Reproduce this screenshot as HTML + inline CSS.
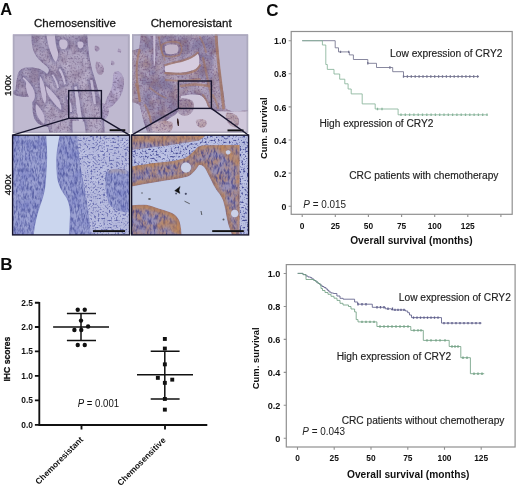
<!DOCTYPE html>
<html><head><meta charset="utf-8"><title>CRY2 figure</title>
<style>
html,body{margin:0;padding:0;background:#fff;width:520px;height:486px;overflow:hidden}
svg{display:block}
text{font-family:"Liberation Sans",Arial,sans-serif}
.b{font-weight:bold}
.lbl{font-size:17px;font-weight:bold;fill:#0a0a0a}
.tk{font-size:8.4px;font-weight:bold;fill:#111}
.ann{font-size:10px;fill:#222;stroke:#222;stroke-width:0.15px}
</style></head>
<body>
<svg width="520" height="486" viewBox="0 0 520 486">
<!-- ===== PANEL A ===== -->
<text class="lbl" x="0.2" y="15.4" style="font-size:16.4px">A</text>
<text x="75" y="27.3" font-size="11.5" fill="#161616" stroke="#161616" stroke-width="0.28" text-anchor="middle" textLength="82" lengthAdjust="spacingAndGlyphs">Chemosensitive</text>
<text x="191.2" y="27.3" font-size="11.5" fill="#161616" stroke="#161616" stroke-width="0.28" text-anchor="middle" textLength="81" lengthAdjust="spacingAndGlyphs">Chemoresistant</text>
<text transform="translate(10.8,85.5) rotate(-90)" font-size="9.6" fill="#111" stroke="#111" stroke-width="0.3" text-anchor="middle">100x</text>
<text transform="translate(10.8,184.9) rotate(-90)" font-size="9.6" fill="#111" stroke="#111" stroke-width="0.3" text-anchor="middle">400x</text>

<g id="micro">
<defs>
<clipPath id="cTL"><rect x="12.9" y="34.6" width="116.6" height="98.5"/></clipPath>
<clipPath id="cTR"><rect x="132" y="34.4" width="116.1" height="98.7"/></clipPath>
<clipPath id="cBL"><rect x="12.6" y="135.2" width="117" height="99.7"/></clipPath>
<clipPath id="cBR"><rect x="131.6" y="135.2" width="117" height="99.7"/></clipPath>
<filter id="sTL" x="0" y="0" width="1" height="1" color-interpolation-filters="sRGB"><feTurbulence type="fractalNoise" baseFrequency="0.55" numOctaves="1" seed="3"/><feColorMatrix type="matrix" values="0 0 0 0 0.400  0 0 0 0 0.330  0 0 0 0 0.480  4.00 0 0 0 -1.95"/><feGaussianBlur stdDeviation="0.4"/></filter>
<filter id="dTL" x="0" y="0" width="1" height="1" color-interpolation-filters="sRGB"><feTurbulence type="fractalNoise" baseFrequency="0.1" numOctaves="3" seed="9"/><feColorMatrix type="matrix" values="0 0 0 0 0.480  0 0 0 0 0.380  0 0 0 0 0.500  2.20 0 0 0 -0.85"/></filter>
<filter id="lTL" x="0" y="0" width="1" height="1" color-interpolation-filters="sRGB"><feTurbulence type="fractalNoise" baseFrequency="0.1" numOctaves="3" seed="19"/><feColorMatrix type="matrix" values="0 0 0 0 0.840  0 0 0 0 0.800  0 0 0 0 0.880  2.20 0 0 0 -0.85"/></filter>
<filter id="sTR" x="0" y="0" width="1" height="1" color-interpolation-filters="sRGB"><feTurbulence type="fractalNoise" baseFrequency="0.55" numOctaves="1" seed="4"/><feColorMatrix type="matrix" values="0 0 0 0 0.400  0 0 0 0 0.280  0 0 0 0 0.450  4.00 0 0 0 -1.95"/><feGaussianBlur stdDeviation="0.4"/></filter>
<filter id="dTR" x="0" y="0" width="1" height="1" color-interpolation-filters="sRGB"><feTurbulence type="fractalNoise" baseFrequency="0.1" numOctaves="3" seed="13"/><feColorMatrix type="matrix" values="0 0 0 0 0.550  0 0 0 0 0.350  0 0 0 0 0.300  2.20 0 0 0 -0.85"/></filter>
<filter id="lTR" x="0" y="0" width="1" height="1" color-interpolation-filters="sRGB"><feTurbulence type="fractalNoise" baseFrequency="0.1" numOctaves="3" seed="23"/><feColorMatrix type="matrix" values="0 0 0 0 0.860  0 0 0 0 0.820  0 0 0 0 0.900  2.20 0 0 0 -0.85"/></filter>
<filter id="sBL" x="0" y="0" width="1" height="1" color-interpolation-filters="sRGB"><feTurbulence type="fractalNoise" baseFrequency="0.55" numOctaves="1" seed="11"/><feColorMatrix type="matrix" values="0 0 0 0 0.300  0 0 0 0 0.320  0 0 0 0 0.620  4.30 0 0 0 -2.20"/><feGaussianBlur stdDeviation="0.38"/></filter>
<filter id="dBL" x="0" y="0" width="1" height="1" color-interpolation-filters="sRGB"><feTurbulence type="fractalNoise" baseFrequency="0.1" numOctaves="3" seed="15"/><feColorMatrix type="matrix" values="0 0 0 0 0.350  0 0 0 0 0.380  0 0 0 0 0.720  2.20 0 0 0 -0.85"/></filter>
<filter id="lBL" x="0" y="0" width="1" height="1" color-interpolation-filters="sRGB"><feTurbulence type="fractalNoise" baseFrequency="0.1" numOctaves="3" seed="25"/><feColorMatrix type="matrix" values="0 0 0 0 0.840  0 0 0 0 0.860  0 0 0 0 0.950  2.20 0 0 0 -0.85"/></filter>
<filter id="sBR" x="0" y="0" width="1" height="1" color-interpolation-filters="sRGB"><feTurbulence type="fractalNoise" baseFrequency="0.55" numOctaves="1" seed="5"/><feColorMatrix type="matrix" values="0 0 0 0 0.220  0 0 0 0 0.240  0 0 0 0 0.550  4.30 0 0 0 -2.20"/><feGaussianBlur stdDeviation="0.38"/></filter>
<filter id="dBR" x="0" y="0" width="1" height="1" color-interpolation-filters="sRGB"><feTurbulence type="fractalNoise" baseFrequency="0.09" numOctaves="3" seed="17"/><feColorMatrix type="matrix" values="0 0 0 0 0.750  0 0 0 0 0.500  0 0 0 0 0.280  2.40 0 0 0 -0.90"/></filter>
<filter id="lBR" x="0" y="0" width="1" height="1" color-interpolation-filters="sRGB"><feTurbulence type="fractalNoise" baseFrequency="0.1" numOctaves="3" seed="27"/><feColorMatrix type="matrix" values="0 0 0 0 0.820  0 0 0 0 0.840  0 0 0 0 0.940  2.20 0 0 0 -0.85"/></filter>
<filter id="b1" x="-30%" y="-30%" width="160%" height="160%"><feGaussianBlur stdDeviation="0.7"/></filter>
<filter id="b2" x="-30%" y="-30%" width="160%" height="160%"><feGaussianBlur stdDeviation="1.6"/></filter>
<filter id="b3" x="-30%" y="-30%" width="160%" height="160%"><feGaussianBlur stdDeviation="1.0"/></filter>
<filter id="eBL" x="0" y="0" width="1" height="1" color-interpolation-filters="sRGB"><feTurbulence type="fractalNoise" baseFrequency="0.55 0.22" numOctaves="2" seed="31"/><feColorMatrix type="matrix" values="0 0 0 0 0.220  0 0 0 0 0.250  0 0 0 0 0.550  3.00 0 0 0 -1.25"/><feGaussianBlur stdDeviation="0.3"/></filter>
<filter id="eBR" x="0" y="0" width="1" height="1" color-interpolation-filters="sRGB"><feTurbulence type="fractalNoise" baseFrequency="0.5 0.2" numOctaves="2" seed="33"/><feColorMatrix type="matrix" values="0 0 0 0 0.220  0 0 0 0 0.220  0 0 0 0 0.520  3.00 0 0 0 -1.25"/><feGaussianBlur stdDeviation="0.3"/></filter>
<filter id="oBR" x="0" y="0" width="1" height="1" color-interpolation-filters="sRGB"><feTurbulence type="fractalNoise" baseFrequency="0.12" numOctaves="3" seed="37"/><feColorMatrix type="matrix" values="0 0 0 0 0.760  0 0 0 0 0.520  0 0 0 0 0.320  2.40 0 0 0 -0.75"/></filter>
</defs>
<g clip-path="url(#cTL)">
<rect x="10" y="32" width="122.5" height="104" fill="#aea4c0"/>
<g filter="url(#b2)" opacity="0.35" fill="#7c7298"><path d="M31.5 35 L45 35 C47 43 51 50 55 56 C52 60 48 62 45 61 C40 56 35 48 31.5 35 Z"/><path d="M56 35 L74 35 C75 42 72 50 66 54 C61 52 58 45 56 35 Z"/><path d="M18 78 C20 71 27 68 34 69 C37 71 36 76 32 80 C28 84 26 90 22 93 C18 92 17 85 18 78 Z"/><path d="M75 35 L87 35 C88 42 88 50 86 55 C81 56 77 50 75 44 Z"/></g>
<g filter="url(#b3)" fill="none" stroke="#6c6290" stroke-width="4.6" opacity="0.6"><path d="M10 32 L31.5 32 C31.5 42 32 47 34 52 C36 57 40 61 44 64 C46 65.5 48 67 49 70 C48.5 72 47.5 73.5 47 74 C45 72 43 70.5 40 69 C36 67.5 30 67 25 67.8 C21 68.8 18.5 71 17.5 75 C16.5 80 16 85 15.5 90 L10 92 Z"/><path d="M10 92 C14 95 18 96.5 22 96.8 C26 97 29 96.5 31.5 97 C32.5 100 32.5 106 32.8 112 C33.2 117 35 121 38 123.5 C41 125.5 45 126.5 48 127 C49 130 49.5 133 50 136 L10 136 Z"/><path d="M72.3 121 C75.5 120 80 120.5 84 121.5 C85 126 85.5 130 86 136 L72.8 136 C72.6 131 72.3 126 72.3 121 Z"/><path d="M87 32 L133 32 L133 136 L104.5 136 C104.5 126 104 121 104 116 C103.5 112 102.5 108 101.5 104 C99.5 96 97 86 94 76 C92 70 90 62 89 54 C88 46 87.5 40 87 32 Z"/><path d="M46 32 L55 32 C55 41 56 47 58 52 C58.5 56 57.5 60 55.5 62 C52.5 58 50.2 52 48.6 46 C47.3 41 46.5 36 46 32 Z"/><path d="M76.5 86 C78.5 93 79.5 101 80.5 108 C81 113 81.8 117 83 121 L79 122 C77.8 117.5 77 113 76.4 108 C75.6 101 75 94 74.2 87 Z"/><path d="M77.5 42 C79.5 40.5 82.5 41 83.5 43.5 C84 46 82.5 48.5 80 48.5 C78 48 77 45 77.5 42 Z"/><path d="M26.5 80.5 C30 83 33.5 87.5 34.8 93 C35.4 97 34.3 100.5 32.5 102 C29.5 99 27.2 94.5 26.3 90 C25.8 86.5 25.9 83 26.5 80.5 Z"/><path d="M40 76 C43 80 45 86 46 93 C46.5 98 46 102 45 104 C43 101 41.5 96 40.5 90 C39.8 85 39.6 80 40 76 Z"/><path d="M53 74 C56 78 58 83 59 88 L57.4 88.6 C56.3 84 54.3 79.5 51.8 75.6 Z"/><path d="M92.5 80 C94 88 95.5 96 96 104 L93.6 104 C92.6 96 91 88 90 80 Z"/><path d="M46 86 C50 89 55 94 59 100 C61 104 62 108 61 110 C58 108 54 103 50 98 C47 94 45.5 90 46 86 Z"/><path d="M60 68 C63 72 65 78 66 84 L64 84.8 C63 79 61 74 58.6 70 Z"/><path d="M59.5 40.5 C62 38.5 66 39 67.5 42 C68.5 46 66.5 49.5 63 49.5 C60 49 58.5 45 59.5 40.5 Z"/><path d="M23 77 C26.5 78.5 29 82 29.8 87 L27.8 88 C27 83.5 25.5 80.5 22.5 78.5 Z"/><path d="M68 97 C71 101 72 106 72 112 L70 112 C70 107 69 102 66.8 98 Z"/><path d="M36 104 C39 106 42 110 44 115 C45 119 45 122 44 124 C41 122 38.5 119 37 115 C35.5 111 35.3 107 36 104 Z"/></g>
<g filter="url(#b1)"><path fill="#bfb9d0" d="M10 32 L31.5 32 C31.5 42 32 47 34 52 C36 57 40 61 44 64 C46 65.5 48 67 49 70 C48.5 72 47.5 73.5 47 74 C45 72 43 70.5 40 69 C36 67.5 30 67 25 67.8 C21 68.8 18.5 71 17.5 75 C16.5 80 16 85 15.5 90 L10 92 Z"/><path fill="#bfb9d0" d="M10 92 C14 95 18 96.5 22 96.8 C26 97 29 96.5 31.5 97 C32.5 100 32.5 106 32.8 112 C33.2 117 35 121 38 123.5 C41 125.5 45 126.5 48 127 C49 130 49.5 133 50 136 L10 136 Z"/><path fill="#bfb9d0" d="M72.3 121 C75.5 120 80 120.5 84 121.5 C85 126 85.5 130 86 136 L72.8 136 C72.6 131 72.3 126 72.3 121 Z"/><path fill="#bfb9d0" d="M87 32 L133 32 L133 136 L104.5 136 C104.5 126 104 121 104 116 C103.5 112 102.5 108 101.5 104 C99.5 96 97 86 94 76 C92 70 90 62 89 54 C88 46 87.5 40 87 32 Z"/><path fill="#c8bed6" d="M46 32 L55 32 C55 41 56 47 58 52 C58.5 56 57.5 60 55.5 62 C52.5 58 50.2 52 48.6 46 C47.3 41 46.5 36 46 32 Z"/><path fill="#c4bcd5" d="M76.5 86 C78.5 93 79.5 101 80.5 108 C81 113 81.8 117 83 121 L79 122 C77.8 117.5 77 113 76.4 108 C75.6 101 75 94 74.2 87 Z"/><path fill="#c4bad4" d="M77.5 42 C79.5 40.5 82.5 41 83.5 43.5 C84 46 82.5 48.5 80 48.5 C78 48 77 45 77.5 42 Z"/><path fill="#c4bad4" d="M26.5 80.5 C30 83 33.5 87.5 34.8 93 C35.4 97 34.3 100.5 32.5 102 C29.5 99 27.2 94.5 26.3 90 C25.8 86.5 25.9 83 26.5 80.5 Z"/><path fill="#c4bad4" d="M40 76 C43 80 45 86 46 93 C46.5 98 46 102 45 104 C43 101 41.5 96 40.5 90 C39.8 85 39.6 80 40 76 Z"/><path fill="#c4bad4" d="M53 74 C56 78 58 83 59 88 L57.4 88.6 C56.3 84 54.3 79.5 51.8 75.6 Z"/><path fill="#c0b6d0" d="M92.5 80 C94 88 95.5 96 96 104 L93.6 104 C92.6 96 91 88 90 80 Z"/><path fill="#c4bad4" d="M46 86 C50 89 55 94 59 100 C61 104 62 108 61 110 C58 108 54 103 50 98 C47 94 45.5 90 46 86 Z"/><path fill="#c4bad4" d="M60 68 C63 72 65 78 66 84 L64 84.8 C63 79 61 74 58.6 70 Z"/><path fill="#c6bcd4" d="M59.5 40.5 C62 38.5 66 39 67.5 42 C68.5 46 66.5 49.5 63 49.5 C60 49 58.5 45 59.5 40.5 Z"/><path fill="#c4bad4" d="M23 77 C26.5 78.5 29 82 29.8 87 L27.8 88 C27 83.5 25.5 80.5 22.5 78.5 Z"/><path fill="#c4bad4" d="M68 97 C71 101 72 106 72 112 L70 112 C70 107 69 102 66.8 98 Z"/><path fill="#c2b8d2" d="M36 104 C39 106 42 110 44 115 C45 119 45 122 44 124 C41 122 38.5 119 37 115 C35.5 111 35.3 107 36 104 Z"/><path fill="#aa9ec4" d="M117 71 C121 72 124 76 124 82 C124 90 121 97 116 102 C113 106 109 109 106 108 C104 104 106 99 109 94 C112 89 113 83 113 78 C113 74 114 71 117 71 Z"/><path fill="#aa9ec4" d="M102.5 103 C106 104 109 108 109 112 C108 116 106 119 104.3 120 C103 116 102.5 110 102.5 103 Z"/><path fill="#aa9ab8" d="M96 62 C99 61 103 64 104 69 C104 74 101 76 98 74 C96 71 95 66 96 62 Z"/><path fill="#a696b8" d="M95 46 C97 45 99.5 46.5 99.5 49 C99 51 97 52 95.5 51 C94.5 49.5 94.5 47 95 46 Z"/><path fill="#b0a4c4" d="M111 61 C113 60 115 62 114.5 64 C113.5 66 111.5 65.5 111 64 Z"/><path fill="#b0a4c4" d="M118 49 C120 48 122 50 121 52 C120 53.5 118 53 117.5 51.5 Z"/></g>
<mask id="mTL" maskUnits="userSpaceOnUse" x="10" y="32" width="122.5" height="104"><g filter="url(#b1)"><rect x="10" y="32" width="122.5" height="104" fill="#fff"/><path fill="#000" d="M10 32 L31.5 32 C31.5 42 32 47 34 52 C36 57 40 61 44 64 C46 65.5 48 67 49 70 C48.5 72 47.5 73.5 47 74 C45 72 43 70.5 40 69 C36 67.5 30 67 25 67.8 C21 68.8 18.5 71 17.5 75 C16.5 80 16 85 15.5 90 L10 92 Z"/><path fill="#000" d="M10 92 C14 95 18 96.5 22 96.8 C26 97 29 96.5 31.5 97 C32.5 100 32.5 106 32.8 112 C33.2 117 35 121 38 123.5 C41 125.5 45 126.5 48 127 C49 130 49.5 133 50 136 L10 136 Z"/><path fill="#000" d="M72.3 121 C75.5 120 80 120.5 84 121.5 C85 126 85.5 130 86 136 L72.8 136 C72.6 131 72.3 126 72.3 121 Z"/><path fill="#000" d="M87 32 L133 32 L133 136 L104.5 136 C104.5 126 104 121 104 116 C103.5 112 102.5 108 101.5 104 C99.5 96 97 86 94 76 C92 70 90 62 89 54 C88 46 87.5 40 87 32 Z"/><path fill="#000" d="M46 32 L55 32 C55 41 56 47 58 52 C58.5 56 57.5 60 55.5 62 C52.5 58 50.2 52 48.6 46 C47.3 41 46.5 36 46 32 Z"/><path fill="#000" d="M76.5 86 C78.5 93 79.5 101 80.5 108 C81 113 81.8 117 83 121 L79 122 C77.8 117.5 77 113 76.4 108 C75.6 101 75 94 74.2 87 Z"/><path fill="#000" d="M77.5 42 C79.5 40.5 82.5 41 83.5 43.5 C84 46 82.5 48.5 80 48.5 C78 48 77 45 77.5 42 Z"/><path fill="#000" d="M26.5 80.5 C30 83 33.5 87.5 34.8 93 C35.4 97 34.3 100.5 32.5 102 C29.5 99 27.2 94.5 26.3 90 C25.8 86.5 25.9 83 26.5 80.5 Z"/><path fill="#000" d="M40 76 C43 80 45 86 46 93 C46.5 98 46 102 45 104 C43 101 41.5 96 40.5 90 C39.8 85 39.6 80 40 76 Z"/><path fill="#000" d="M53 74 C56 78 58 83 59 88 L57.4 88.6 C56.3 84 54.3 79.5 51.8 75.6 Z"/><path fill="#000" d="M92.5 80 C94 88 95.5 96 96 104 L93.6 104 C92.6 96 91 88 90 80 Z"/><path fill="#000" d="M46 86 C50 89 55 94 59 100 C61 104 62 108 61 110 C58 108 54 103 50 98 C47 94 45.5 90 46 86 Z"/><path fill="#000" d="M60 68 C63 72 65 78 66 84 L64 84.8 C63 79 61 74 58.6 70 Z"/><path fill="#000" d="M59.5 40.5 C62 38.5 66 39 67.5 42 C68.5 46 66.5 49.5 63 49.5 C60 49 58.5 45 59.5 40.5 Z"/><path fill="#000" d="M23 77 C26.5 78.5 29 82 29.8 87 L27.8 88 C27 83.5 25.5 80.5 22.5 78.5 Z"/><path fill="#000" d="M68 97 C71 101 72 106 72 112 L70 112 C70 107 69 102 66.8 98 Z"/><path fill="#000" d="M36 104 C39 106 42 110 44 115 C45 119 45 122 44 124 C41 122 38.5 119 37 115 C35.5 111 35.3 107 36 104 Z"/><path fill="#fff" d="M117 71 C121 72 124 76 124 82 C124 90 121 97 116 102 C113 106 109 109 106 108 C104 104 106 99 109 94 C112 89 113 83 113 78 C113 74 114 71 117 71 Z"/><path fill="#fff" d="M102.5 103 C106 104 109 108 109 112 C108 116 106 119 104.3 120 C103 116 102.5 110 102.5 103 Z"/><path fill="#fff" d="M96 62 C99 61 103 64 104 69 C104 74 101 76 98 74 C96 71 95 66 96 62 Z"/><path fill="#fff" d="M95 46 C97 45 99.5 46.5 99.5 49 C99 51 97 52 95.5 51 C94.5 49.5 94.5 47 95 46 Z"/><path fill="#fff" d="M111 61 C113 60 115 62 114.5 64 C113.5 66 111.5 65.5 111 64 Z"/><path fill="#fff" d="M118 49 C120 48 122 50 121 52 C120 53.5 118 53 117.5 51.5 Z"/></g></mask>
<rect x="10" y="32" width="122.5" height="104" filter="url(#dTL)" mask="url(#mTL)" opacity="0.45"/>
<rect x="10" y="32" width="122.5" height="104" filter="url(#lTL)" mask="url(#mTL)" opacity="0.45"/>
<rect x="10" y="32" width="122.5" height="104" filter="url(#sTL)" mask="url(#mTL)" opacity="0.5"/>
</g>
<g clip-path="url(#cTR)">
<rect x="129" y="32" width="122.2" height="104" fill="#a195b1"/>
<g filter="url(#b2)" opacity="0.5" fill="#706694"><path d="M160 36 C170 35 185 36 195 40 C198 46 196 52 190 55 C180 57 170 57 163 55 C159 50 158 42 160 36 Z"/><path d="M200 60 C205 62 210 70 212 80 C213 88 210 92 206 90 C202 85 200 75 200 60 Z"/><path d="M142 66 C150 68 160 75 170 82 C176 90 178 100 176 110 C172 118 165 123 156 124 C150 120 146 110 144 100 C142 88 141 76 142 66 Z"/><path d="M196 35 L214 35 C215 50 214 65 212 80 C206 82 200 78 198 70 C197 60 196 48 196 35 Z"/><path d="M141 32 L152 32 C152 42 151 52 148 60 C145 58 142 50 141 42 Z"/></g>
<g filter="url(#b3)" fill="none" stroke="#746490" stroke-width="4.0" opacity="0.55"><path d="M217.5 32 L251 32 L251 110 C246 110.5 240 111 234 111.5 C230 111 227 110 225.5 108 C224.5 100 223.5 92 222 84 C220.5 74 219.5 64 218.5 54 C218 46 217.8 40 217.5 32 Z"/><path d="M129 32 L141 32 C140.5 38 140 44 139 48.5 C136 50 133 50.5 129 50.5 Z"/><path d="M129 102 C134 102 138 103 140 106 C141.5 112 143 120 145 126 C146.5 130 148 133 149 136 L129 136 Z"/><path d="M153 32 L155.6 32 C155.5 42 155.4 52 155.2 60 C155 63 154.8 65 154.4 66 L153.6 66 C153.5 60 153.4 52 153.3 45 C153.2 40 153.1 36 153 32 Z"/><path d="M165 46 C168 44 173 43.8 177 45 C179 47 179 50.5 177 53 C173 54.5 169 54.5 166 53.5 C164.5 51 164.5 48 165 46 Z"/><path d="M165 66 C171 64 177 62.5 181 62 C186 60.5 191 58.5 194 56.5 C196 55 197 54 198 53.5 C199.5 56 199.8 61 199 65.8 C197 68 195.5 69.3 194.6 69.6 C190 71.5 185 72.5 180.8 72.7 C175 72.8 170 72.5 165.4 72 C164.5 70 164.5 68 165 66 Z"/><path d="M181 96 C187 94.5 194 94 200 95 C204 97 206 100 207 104 C208 108 211 110.5 216 111 C224 111.5 236 111.5 251 111 L251 136 L151 136 C154 132 158 128 162 124 C167 120 171 117 175 115 C179 112 180 108 180 104 C180 100 180.5 98 181 96 Z"/></g>
<g filter="url(#b1)"><path fill="#bdb9d1" d="M217.5 32 L251 32 L251 110 C246 110.5 240 111 234 111.5 C230 111 227 110 225.5 108 C224.5 100 223.5 92 222 84 C220.5 74 219.5 64 218.5 54 C218 46 217.8 40 217.5 32 Z"/><path fill="#bdb9d1" d="M129 32 L141 32 C140.5 38 140 44 139 48.5 C136 50 133 50.5 129 50.5 Z"/><path fill="#bdb9d1" d="M129 102 C134 102 138 103 140 106 C141.5 112 143 120 145 126 C146.5 130 148 133 149 136 L129 136 Z"/><path fill="#c8bed6" d="M153 32 L155.6 32 C155.5 42 155.4 52 155.2 60 C155 63 154.8 65 154.4 66 L153.6 66 C153.5 60 153.4 52 153.3 45 C153.2 40 153.1 36 153 32 Z"/><path fill="#c2b4c8" d="M165 46 C168 44 173 43.8 177 45 C179 47 179 50.5 177 53 C173 54.5 169 54.5 166 53.5 C164.5 51 164.5 48 165 46 Z"/><path fill="#d6ccde" d="M165 66 C171 64 177 62.5 181 62 C186 60.5 191 58.5 194 56.5 C196 55 197 54 198 53.5 C199.5 56 199.8 61 199 65.8 C197 68 195.5 69.3 194.6 69.6 C190 71.5 185 72.5 180.8 72.7 C175 72.8 170 72.5 165.4 72 C164.5 70 164.5 68 165 66 Z"/><path fill="#cfc7da" d="M181 96 C187 94.5 194 94 200 95 C204 97 206 100 207 104 C208 108 211 110.5 216 111 C224 111.5 236 111.5 251 111 L251 136 L151 136 C154 132 158 128 162 124 C167 120 171 117 175 115 C179 112 180 108 180 104 C180 100 180.5 98 181 96 Z"/><path fill="#9e8ea8" d="M179 99 C184 97.5 190 98.5 193 102 C195 106 194 111 190 114 C186 116.5 181 116 178.5 113 C177 109 177 103 179 99 Z"/><path fill="#b8a6b4" d="M226 113 C230 112 234 113 237 116 C239.5 119 239.5 124 237 127 C234 128 230 126 228 123 C226 120 225.5 116 226 113 Z"/><path fill="#bca8b8" d="M152 124 C158 121 166 120 172 122 C174 126 172 131 168 134 L154 134 C152 131 151 127 152 124 Z"/><path fill="#c0b0c0" d="M196 120 C200 118 205 119 207 122 C207 126 204 128 200 127.5 C197 126.5 195.5 123 196 120 Z"/></g>
<mask id="mTR" maskUnits="userSpaceOnUse" x="129" y="32" width="122.2" height="104"><g filter="url(#b1)"><rect x="129" y="32" width="122.2" height="104" fill="#fff"/><path fill="#000" d="M217.5 32 L251 32 L251 110 C246 110.5 240 111 234 111.5 C230 111 227 110 225.5 108 C224.5 100 223.5 92 222 84 C220.5 74 219.5 64 218.5 54 C218 46 217.8 40 217.5 32 Z"/><path fill="#000" d="M129 32 L141 32 C140.5 38 140 44 139 48.5 C136 50 133 50.5 129 50.5 Z"/><path fill="#000" d="M129 102 C134 102 138 103 140 106 C141.5 112 143 120 145 126 C146.5 130 148 133 149 136 L129 136 Z"/><path fill="#000" d="M153 32 L155.6 32 C155.5 42 155.4 52 155.2 60 C155 63 154.8 65 154.4 66 L153.6 66 C153.5 60 153.4 52 153.3 45 C153.2 40 153.1 36 153 32 Z"/><path fill="#000" d="M165 46 C168 44 173 43.8 177 45 C179 47 179 50.5 177 53 C173 54.5 169 54.5 166 53.5 C164.5 51 164.5 48 165 46 Z"/><path fill="#000" d="M165 66 C171 64 177 62.5 181 62 C186 60.5 191 58.5 194 56.5 C196 55 197 54 198 53.5 C199.5 56 199.8 61 199 65.8 C197 68 195.5 69.3 194.6 69.6 C190 71.5 185 72.5 180.8 72.7 C175 72.8 170 72.5 165.4 72 C164.5 70 164.5 68 165 66 Z"/><path fill="#000" d="M181 96 C187 94.5 194 94 200 95 C204 97 206 100 207 104 C208 108 211 110.5 216 111 C224 111.5 236 111.5 251 111 L251 136 L151 136 C154 132 158 128 162 124 C167 120 171 117 175 115 C179 112 180 108 180 104 C180 100 180.5 98 181 96 Z"/><path fill="#fff" d="M179 99 C184 97.5 190 98.5 193 102 C195 106 194 111 190 114 C186 116.5 181 116 178.5 113 C177 109 177 103 179 99 Z"/><path fill="#fff" d="M226 113 C230 112 234 113 237 116 C239.5 119 239.5 124 237 127 C234 128 230 126 228 123 C226 120 225.5 116 226 113 Z"/><path fill="#fff" d="M152 124 C158 121 166 120 172 122 C174 126 172 131 168 134 L154 134 C152 131 151 127 152 124 Z"/><path fill="#fff" d="M196 120 C200 118 205 119 207 122 C207 126 204 128 200 127.5 C197 126.5 195.5 123 196 120 Z"/></g></mask>
<rect x="129" y="32" width="122.2" height="104" filter="url(#dTR)" mask="url(#mTR)" opacity="0.35"/>
<rect x="129" y="32" width="122.2" height="104" filter="url(#lTR)" mask="url(#mTR)" opacity="0.45"/>
<rect x="129" y="32" width="122.2" height="104" filter="url(#sTR)" mask="url(#mTR)" opacity="0.5"/>
</g>
<g clip-path="url(#cTR)" filter="url(#b1)" fill="none" stroke="#a6765e" stroke-linecap="round"><path d="M216 35 C217 48 218 60 219.5 72 C221 84 222.5 96 223.5 108" stroke-width="2.8" stroke-opacity="0.7"/><path d="M165 65.2 C171 63.2 177 61.7 181 61.2 C186 59.7 191 57.7 194 55.7 C196 54.2 197 53.2 198 52.7" stroke-width="2.0" stroke-opacity="0.6"/><path d="M165.4 73.2 C170 73.7 175 74 181 73.9 C186 73.7 191 72.7 195 70.7 C197 69.7 199 67.2 200 65.2" stroke-width="2.2" stroke-opacity="0.65"/><path d="M162 44.5 C167 41.5 174 41 179.5 43 C182.5 46 182.5 51.5 179.5 55 C174 57 168 57 163.5 55.5 C161 52 161 48 162 44.5 Z" stroke-width="1.6" stroke-opacity="0.55"/><path d="M166 80 C175 81 188 81 200 79" stroke-width="1.8" stroke-opacity="0.5"/><path d="M181 86 C190 84 200 84 209 86" stroke-width="2.6" stroke-opacity="0.6"/><path d="M139.5 50 C137 58 136 68 137 80 C138 88 139 95 140 101" stroke-width="2.2" stroke-opacity="0.6"/><path d="M203 95 C206 99 208 103 210 108 M213 95 C215 99 217 103 218 108" stroke-width="2.0" stroke-opacity="0.55"/><path d="M159 37 C160 46 162 54 165 60" stroke-width="1.5" stroke-opacity="0.45"/><path d="M200 37 C203 42 205 47 206 52" stroke-width="1.8" stroke-opacity="0.5"/><path d="M203 58 C205 66 207 76 209 86 C210 90 211 94 211.5 98" stroke-width="2.2" stroke-opacity="0.55"/><path d="M145 105 C148 110 150 116 151 122" stroke-width="2.0" stroke-opacity="0.5"/><path d="M150 88 C155 92 160 96 166 98" stroke-width="1.8" stroke-opacity="0.45"/><path d="M136 84 C138 90 139 96 139.5 101" stroke-width="2.0" stroke-opacity="0.55"/></g><path d="M177.4 119.5 L178.6 125" stroke="#3a2828" stroke-width="2" stroke-linecap="round" filter="url(#b1)"/>
<g fill="none" stroke="#9e9cae" stroke-opacity="0.55" stroke-width="1.6"><rect x="13.7" y="35.4" width="115" height="97"/><rect x="132.8" y="35.2" width="114.5" height="97"/></g>
<g clip-path="url(#cBL)"><rect x="10" y="132" width="122" height="106" fill="#b4b8dc"/><rect x="10" y="132" width="122" height="106" filter="url(#lBL)" opacity="0.35"/><rect x="10" y="132" width="122" height="106" filter="url(#sBL)" opacity="0.8"/><mask id="mBLe" maskUnits="userSpaceOnUse" x="10" y="132" width="122" height="106"><g filter="url(#b1)"><path fill="#fff" d="M10 132 L46.5 132 C47 140 47.7 149 47.7 157 C47.5 164 47 172 46.5 180 C46 188 44.5 195 42 202 C40 208 37.5 215 36 223 C35 228 34.5 232 34 238 L10 238 Z"/><path fill="#fff" d="M59.5 132 L77 132 C78 150 80 166 83 180 C86 195 89 210 91 238 L68.5 238 C68.7 230 69.5 222 69.5 214 C69.5 208 68.5 203 66 198 C62.5 193 59 188 57 180 C56 174 55.7 166 55.8 158 C56 150 58 142 59.5 132 Z"/><path fill="#fff" d="M106 172 C114 167 126 168 132 174 L132 212 C124 213 115 211 110 205 C106 197 104 182 106 172 Z"/><path fill="#000" d="M46 132 L60 132 C58.5 142 56.5 150 56.3 158 C56.2 166 56.5 174 57.5 180 C59.5 188 63 193 66.5 198 C69 203 70 208 70 214 C69.8 222 69 230 68.8 238 L33.5 238 C34 232 34.5 228 35.5 223 C37 215 39.5 208 41.5 202 C44 195 45.5 188 46 180 C46.5 172 47 164 47.2 157 C47.2 149 46.5 140 46 132 Z"/></g></mask><g filter="url(#b1)" fill="#9ca2d2"><path d="M10 132 L46.5 132 C47 140 47.7 149 47.7 157 C47.5 164 47 172 46.5 180 C46 188 44.5 195 42 202 C40 208 37.5 215 36 223 C35 228 34.5 232 34 238 L10 238 Z"/><path d="M59.5 132 L77 132 C78 150 80 166 83 180 C86 195 89 210 91 238 L68.5 238 C68.7 230 69.5 222 69.5 214 C69.5 208 68.5 203 66 198 C62.5 193 59 188 57 180 C56 174 55.7 166 55.8 158 C56 150 58 142 59.5 132 Z"/><path d="M106 172 C114 167 126 168 132 174 L132 212 C124 213 115 211 110 205 C106 197 104 182 106 172 Z"/></g><rect x="10" y="132" width="122" height="106" filter="url(#dBL)" opacity="0.4" mask="url(#mBLe)"/><rect x="10" y="132" width="122" height="106" filter="url(#eBL)" opacity="0.6" mask="url(#mBLe)"/><path d="M109 172 C115 169 122 170 126 173" stroke="#b09890" stroke-width="3" fill="none" opacity="0.6" filter="url(#b2)"/><path d="M46 132 L60 132 C58.5 142 56.5 150 56.3 158 C56.2 166 56.5 174 57.5 180 C59.5 188 63 193 66.5 198 C69 203 70 208 70 214 C69.8 222 69 230 68.8 238 L33.5 238 C34 232 34.5 228 35.5 223 C37 215 39.5 208 41.5 202 C44 195 45.5 188 46 180 C46.5 172 47 164 47.2 157 C47.2 149 46.5 140 46 132 Z" fill="none" stroke="#6e76b8" stroke-width="2.6" opacity="0.45" filter="url(#b3)"/><path d="M46 132 L60 132 C58.5 142 56.5 150 56.3 158 C56.2 166 56.5 174 57.5 180 C59.5 188 63 193 66.5 198 C69 203 70 208 70 214 C69.8 222 69 230 68.8 238 L33.5 238 C34 232 34.5 228 35.5 223 C37 215 39.5 208 41.5 202 C44 195 45.5 188 46 180 C46.5 172 47 164 47.2 157 C47.2 149 46.5 140 46 132 Z" fill="#cbd6ee" filter="url(#b1)"/></g>
<g clip-path="url(#cBR)"><rect x="129" y="132" width="122" height="106" fill="#b6bce0"/><rect x="129" y="132" width="122" height="106" filter="url(#lBR)" opacity="0.4"/><rect x="129" y="132" width="122" height="106" filter="url(#sBR)" opacity="0.9"/><mask id="mBRe" maskUnits="userSpaceOnUse" x="129" y="132" width="122" height="106"><g filter="url(#b1)"><path fill="#fff" d="M129 167 C140 165 150 163.5 160 162.5 C170 161.5 178 160.5 184 158.5 C190 156 194 151 198 147 C201 145.5 204 145.3 208 145.3 L239.5 145 L239.5 238 L232.5 238 L231 232 C229.5 228 228 224 227 219 C226 214 225.5 209 224 204 C223 199 221 196 218 192 C216 189.5 214 186 212 182 C210 178 208 174 206 170 C204 166 201.5 164.5 199 165 C196.5 169 193 174 188 176.5 C180 178.5 170 180 160 181.5 C150 183 140 185 129 187 Z"/><path fill="#fff" d="M129 132 L209 132 C206 135 203 138 199 140.4 C185 143 160 146.5 129 150 Z"/><path fill="#fff" d="M129 205.6 C134 205 140 204.5 146.5 204.8 C150 205.5 154 207 159.5 208.8 C164 210 168 211.5 172 213 C175 214.5 177.5 217 179.5 221 C181 226 181.5 232 181.6 238 L129 238 Z"/><path fill="#000" d="M181 167.5 C181 164.5 183.5 162.5 186 162.5 C188.8 162.5 191 164.8 191 167.5 C191 170.3 188.8 172.5 186 172.5 C183.3 172.5 181 170.3 181 167.5 Z"/><path fill="#000" d="M231 213.5 C231 211.3 232.7 209.7 234.7 209.7 C236.8 209.7 238.4 211.4 238.4 213.5 C238.4 215.6 236.7 217.3 234.7 217.3 C232.7 217.3 231 215.6 231 213.5 Z"/><path fill="#000" d="M226 151 C227.5 149.5 230 150 230.5 152 C230.5 154 228.5 155 227 154.3 C225.8 153.5 225.5 152 226 151 Z"/></g></mask><g filter="url(#b1)" fill="#9890b4"><path d="M129 167 C140 165 150 163.5 160 162.5 C170 161.5 178 160.5 184 158.5 C190 156 194 151 198 147 C201 145.5 204 145.3 208 145.3 L239.5 145 L239.5 238 L232.5 238 L231 232 C229.5 228 228 224 227 219 C226 214 225.5 209 224 204 C223 199 221 196 218 192 C216 189.5 214 186 212 182 C210 178 208 174 206 170 C204 166 201.5 164.5 199 165 C196.5 169 193 174 188 176.5 C180 178.5 170 180 160 181.5 C150 183 140 185 129 187 Z"/><path d="M129 132 L209 132 C206 135 203 138 199 140.4 C185 143 160 146.5 129 150 Z"/><path d="M129 205.6 C134 205 140 204.5 146.5 204.8 C150 205.5 154 207 159.5 208.8 C164 210 168 211.5 172 213 C175 214.5 177.5 217 179.5 221 C181 226 181.5 232 181.6 238 L129 238 Z"/></g><rect x="129" y="132" width="122" height="106" filter="url(#oBR)" opacity="0.5" mask="url(#mBRe)"/><rect x="129" y="132" width="122" height="106" filter="url(#eBR)" opacity="0.7" mask="url(#mBRe)"/><g filter="url(#b2)" fill="none" stroke="#c8884a" stroke-linecap="round" mask="url(#mBRe)"><path d="M129 187 C140 185 150 183 160 181.5 C170 180 180 178.5 188 176.5 C193 174 196.5 169 199 165 C201.5 164.5 204 166 206 170 C208 174 210 178 212 182 C214 186 216 189.5 218 192 C221 196 223 199 224 204 C225.5 209 226 214 227 219 C228 224 229.5 228 231 232 L232.5 238 L181.6 238 C181.5 232 181 226 179.5 221 C177.5 217 175 214.5 172 213 C168 211.5 164 210 159.5 208.8 C154 207 150 205.5 146.5 204.8 C140 204.5 134 205 129 205.6 Z" stroke-width="7" opacity="0.6"/><path d="M129 168 C140 166 150 164.5 160 163.5 C170 162.5 178 161.5 184 159.5 C190 157 194 152 198 148 C201 146.5 204 146.3 208 146.3 L239.5 146" stroke-width="5" opacity="0.6"/><path d="M239 146 L239 237" stroke-width="4" opacity="0.45"/><path d="M129 138 C150 139 175 138 205 135" stroke-width="9" opacity="0.5"/><path d="M129 206 C137 205 147 205.5 160 209.5 C170 213 177 217 181 225.5" stroke-width="6" opacity="0.5"/><path d="M160 226 C166 222 172 224 176 230" stroke-width="7" opacity="0.5"/><path d="M222 150 C228 152 233 156 236 162" stroke-width="6" opacity="0.55"/></g><g filter="url(#b1)" fill="#cad1e8"><path d="M181 167.5 C181 164.5 183.5 162.5 186 162.5 C188.8 162.5 191 164.8 191 167.5 C191 170.3 188.8 172.5 186 172.5 C183.3 172.5 181 170.3 181 167.5 Z"/><path d="M231 213.5 C231 211.3 232.7 209.7 234.7 209.7 C236.8 209.7 238.4 211.4 238.4 213.5 C238.4 215.6 236.7 217.3 234.7 217.3 C232.7 217.3 231 215.6 231 213.5 Z"/><path d="M226 151 C227.5 149.5 230 150 230.5 152 C230.5 154 228.5 155 227 154.3 C225.8 153.5 225.5 152 226 151 Z"/></g><path d="M129 187 C140 185 150 183 160 181.5 C170 180 180 178.5 188 176.5 C193 174 196.5 169 199 165 C201.5 164.5 204 166 206 170 C208 174 210 178 212 182 C214 186 216 189.5 218 192 C221 196 223 199 224 204 C225.5 209 226 214 227 219 C228 224 229.5 228 231 232 L232.5 238 L181.6 238 C181.5 232 181 226 179.5 221 C177.5 217 175 214.5 172 213 C168 211.5 164 210 159.5 208.8 C154 207 150 205.5 146.5 204.8 C140 204.5 134 205 129 205.6 Z" fill="none" stroke="#6a5a90" stroke-width="2.4" opacity="0.4" filter="url(#b3)"/><path d="M129 187 C140 185 150 183 160 181.5 C170 180 180 178.5 188 176.5 C193 174 196.5 169 199 165 C201.5 164.5 204 166 206 170 C208 174 210 178 212 182 C214 186 216 189.5 218 192 C221 196 223 199 224 204 C225.5 209 226 214 227 219 C228 224 229.5 228 231 232 L232.5 238 L181.6 238 C181.5 232 181 226 179.5 221 C177.5 217 175 214.5 172 213 C168 211.5 164 210 159.5 208.8 C154 207 150 205.5 146.5 204.8 C140 204.5 134 205 129 205.6 Z" fill="#c3cce6" filter="url(#b1)"/></g><path d="M180.1 186.5 L174.7 190.7 L179.9 193.4 L179 190.2 Z" fill="#111" stroke="#111" stroke-width="0.4" stroke-linejoin="round"/><g fill="#2a2d48" opacity="0.8" filter="url(#b1)"><circle cx="176.1" cy="193.5" r="0.9"/><circle cx="185.8" cy="193.8" r="1.1"/></g><g fill="#333" opacity="0.7" filter="url(#b1)"><ellipse cx="149.5" cy="199" rx="1.4" ry="0.9"/><path d="M184.5 201.2 L189.8 203.8" stroke="#333" stroke-width="1"/><path d="M201 211 L201.8 215" stroke="#333" stroke-width="1.1"/><ellipse cx="142" cy="193" rx="0.8" ry="0.8"/><ellipse cx="223.5" cy="219.5" rx="1" ry="1"/></g>
<g stroke="#111" stroke-width="1.9"><path d="M109.6 130.2 H125.3"/><path d="M227.5 130.4 H243.5"/><path d="M93 231.1 H125"/><path d="M212.2 231.1 H243.8"/></g>
</g><!--microend-->
<g fill="none" stroke="#16142c" stroke-width="1.4">
<rect x="12.6" y="135.2" width="117" height="99.7"/>
<rect x="131.6" y="135.2" width="117" height="99.7"/>
<rect x="68.7" y="90.6" width="32.7" height="27.7"/>
<rect x="178.4" y="81" width="33" height="27.4"/>
<path d="M68.7 118.3 L12.6 135.2 M101.4 118.3 L129.6 135.2 M178.4 108.4 L131.6 135.2 M211.4 108.4 L248.6 135.2"/>
</g>

<!-- ===== PANEL B ===== -->
<text class="lbl" x="0.2" y="270.3">B</text>
<g stroke="#111" stroke-width="1.85" fill="none">
<path d="M39.3 301.9 V425.9 M38.4 425 H207.3"/>
<path d="M34.9 302.7 H39.3 M34.9 327 H39.3 M34.9 351.3 H39.3 M34.9 375.8 H39.3 M34.9 400.4 H39.3 M34.9 424.9 H39.3"/>
<path d="M81.5 425 V429.6 M165 425 V429.6"/>
</g>
<g class="tk" text-anchor="end">
<text x="33" y="305.6">2.5</text>
<text x="33" y="329.9">2.0</text>
<text x="33" y="354.2">1.5</text>
<text x="33" y="378.7">1.0</text>
<text x="33" y="403.3">0.5</text>
<text x="33" y="427.8">0.0</text>
</g>
<text transform="translate(9.9,359.1) rotate(-90)" font-size="8.6" font-weight="bold" fill="#111" stroke="#111" stroke-width="0.25" text-anchor="middle">IHC scores</text>
<text x="77.8" y="406.9" font-size="10" fill="#111" textLength="41.3" lengthAdjust="spacingAndGlyphs"><tspan font-style="italic">P</tspan> = 0.001</text>
<text transform="translate(83.6,440.2) rotate(-45)" font-size="8.4" font-weight="bold" fill="#111" text-anchor="end">Chemoresistant</text>
<text transform="translate(166.2,440.8) rotate(-45)" font-size="8.4" font-weight="bold" fill="#111" text-anchor="end">Chemosensitive</text>
<g stroke="#111" stroke-width="1.5" fill="none">
<path d="M53.1 326.9 H109 M66.9 313.5 H96 M66.9 340.6 H96 M81 313.5 V340.6"/>
<path d="M137 374.8 H193 M150.7 351.3 H179.6 M150.7 398.9 H179.6 M164.8 351.3 V398.9"/>
</g>
<g fill="#111">
<circle cx="77.75" cy="309.75" r="2.2"/><circle cx="84.75" cy="309.75" r="2.2"/>
<circle cx="81" cy="320.6" r="2.2"/><circle cx="88.1" cy="326.5" r="2.2"/>
<circle cx="74.4" cy="330" r="2.2"/><circle cx="81.25" cy="330" r="2.2"/>
<circle cx="77.75" cy="345" r="2.2"/><circle cx="84.75" cy="345" r="2.2"/>
<rect x="162.9" y="337.0" width="3.9" height="3.9"/><rect x="162.9" y="346.6" width="3.9" height="3.9"/>
<rect x="162.9" y="362.4" width="3.9" height="3.9"/><rect x="155.9" y="375.9" width="3.9" height="3.9"/>
<rect x="170.3" y="377.7" width="3.9" height="3.9"/><rect x="162.9" y="380.9" width="3.9" height="3.9"/>
<rect x="162.9" y="397.0" width="3.9" height="3.9"/><rect x="162.9" y="407.7" width="3.9" height="3.9"/>
</g>

<!-- ===== PANEL C ===== -->
<text class="lbl" x="266.3" y="15.6">C</text>
<g id="c1">
<rect x="291.2" y="31.5" width="221.0" height="182.8" fill="none" stroke="#909090" stroke-width="1.2"/>
<text class="tk" x="286.3" y="209.8" text-anchor="end" font-size="8.8" style="font-size:8.8px">0</text>
<text class="tk" x="286.3" y="176.7" text-anchor="end" font-size="8.8" style="font-size:8.8px">0.2</text>
<text class="tk" x="286.3" y="143.6" text-anchor="end" font-size="8.8" style="font-size:8.8px">0.4</text>
<text class="tk" x="286.3" y="110.5" text-anchor="end" font-size="8.8" style="font-size:8.8px">0.6</text>
<text class="tk" x="286.3" y="77.4" text-anchor="end" font-size="8.8" style="font-size:8.8px">0.8</text>
<text class="tk" x="286.3" y="44.3" text-anchor="end" font-size="8.8" style="font-size:8.8px">1.0</text>
<text class="tk" x="302.2" y="229.0" text-anchor="middle">0</text>
<text class="tk" x="335.3" y="229.0" text-anchor="middle">25</text>
<text class="tk" x="368.4" y="229.0" text-anchor="middle">50</text>
<text class="tk" x="401.6" y="229.0" text-anchor="middle">75</text>
<text class="tk" x="434.7" y="229.0" text-anchor="middle">100</text>
<text class="tk" x="467.8" y="229.0" text-anchor="middle">125</text>
<path d="M288.6 206.2 H291.2 M288.6 173.1 H291.2 M288.6 140.0 H291.2 M288.6 106.9 H291.2 M288.6 73.8 H291.2 M288.6 40.7 H291.2 M302.2 214.3 V217.1 M335.3 214.3 V217.1 M368.4 214.3 V217.1 M401.6 214.3 V217.1 M434.7 214.3 V217.1 M467.8 214.3 V217.1 M500.9 214.3 V217.1" stroke="#909090" stroke-width="1.1" fill="none"/>
<text x="350.2" y="244.4" font-size="10" font-weight="bold" fill="#111" textLength="122.5" lengthAdjust="spacingAndGlyphs">Overall survival (months)</text>
<text transform="translate(266.9,128.2) rotate(-90)" font-size="9.4" font-weight="bold" fill="#111" text-anchor="middle" textLength="61.8" lengthAdjust="spacingAndGlyphs">Cum. survival</text>
<path d="M302.2 40.7 L335.2 40.7 L335.2 47.8 L338.5 47.8 L338.5 51.9 L349.3 51.9 L349.3 54.9 L353.4 54.9 L353.4 59.5 L367.8 59.5 L367.8 63.3 L376.5 63.3 L376.5 67.5 L392.7 67.5 L392.7 71.7 L403.5 71.7 L403.5 76.5 L479.0 76.5 L479.0 76.5" stroke="#72728e" stroke-width="0.85" fill="none"/>
<path d="M340.5 50.7 V53.1 M348.7 50.7 V53.1 M367.8 62.1 V64.5 M389.9 66.3 V68.7 M403.5 75.3 V77.7 M407.4 75.3 V77.7 M411.3 75.3 V77.7 M415.2 75.3 V77.7 M419.1 75.3 V77.7 M423.0 75.3 V77.7 M426.9 75.3 V77.7 M430.8 75.3 V77.7 M434.7 75.3 V77.7 M438.6 75.3 V77.7 M442.5 75.3 V77.7 M446.4 75.3 V77.7 M450.3 75.3 V77.7 M454.2 75.3 V77.7 M458.1 75.3 V77.7 M462.0 75.3 V77.7 M465.9 75.3 V77.7 M469.8 75.3 V77.7 M473.7 75.3 V77.7 M477.6 75.3 V77.7" stroke="#72728e" stroke-width="1.3" fill="none"/>
<path d="M302.2 40.7 L322.4 40.7 L322.4 45.0 L325.8 45.0 L325.8 64.5 L327.3 64.5 L327.3 69.4 L334.0 69.4 L334.0 74.0 L339.7 74.0 L339.7 79.2 L344.8 79.2 L344.8 83.8 L348.1 83.8 L348.1 89.0 L351.2 89.0 L351.2 93.9 L362.2 93.9 L362.2 103.9 L375.2 103.9 L375.2 109.0 L398.1 109.0 L398.1 114.8 L487.5 114.8 L487.5 114.8" stroke="#88b49a" stroke-width="0.85" fill="none"/>
<path d="M377.5 107.8 V110.2 M382.0 107.8 V110.2 M401.0 113.6 V116.0 M405.3 113.6 V116.0 M409.6 113.6 V116.0 M413.9 113.6 V116.0 M418.2 113.6 V116.0 M422.5 113.6 V116.0 M426.8 113.6 V116.0 M431.1 113.6 V116.0 M435.4 113.6 V116.0 M439.7 113.6 V116.0 M444.0 113.6 V116.0 M448.3 113.6 V116.0 M452.6 113.6 V116.0 M456.9 113.6 V116.0 M461.2 113.6 V116.0 M465.5 113.6 V116.0 M469.8 113.6 V116.0 M474.1 113.6 V116.0 M478.4 113.6 V116.0 M482.7 113.6 V116.0 M487.0 113.6 V116.0" stroke="#88b49a" stroke-width="1.3" fill="none"/>
<text class="ann" x="390.0" y="57.0" textLength="112.5" lengthAdjust="spacingAndGlyphs">Low expression of CRY2</text>
<text class="ann" x="319.4" y="127.0" textLength="114.0" lengthAdjust="spacingAndGlyphs">High expression of CRY2</text>
<text class="ann" x="349.2" y="178.7" textLength="149.3" lengthAdjust="spacingAndGlyphs">CRC patients with chemotherapy</text>
<text x="303.3" y="207.5" font-size="10.3" fill="#222" textLength="42.8" lengthAdjust="spacingAndGlyphs"><tspan font-style="italic">P</tspan> = 0.015</text>
</g><!--c1end-->
<g id="c2">
<rect x="286.3" y="264.6" width="228.8" height="182.4" fill="none" stroke="#909090" stroke-width="1.2"/>
<text class="tk" x="280.4" y="442.2" text-anchor="end" font-size="9.1" style="font-size:9.1px">0</text>
<text class="tk" x="280.4" y="409.2" text-anchor="end" font-size="9.1" style="font-size:9.1px">0.2</text>
<text class="tk" x="280.4" y="376.3" text-anchor="end" font-size="9.1" style="font-size:9.1px">0.4</text>
<text class="tk" x="280.4" y="343.3" text-anchor="end" font-size="9.1" style="font-size:9.1px">0.6</text>
<text class="tk" x="280.4" y="310.4" text-anchor="end" font-size="9.1" style="font-size:9.1px">0.8</text>
<text class="tk" x="280.4" y="277.4" text-anchor="end" font-size="9.1" style="font-size:9.1px">1.0</text>
<text class="tk" x="297.5" y="461.3" text-anchor="middle">0</text>
<text class="tk" x="334.2" y="461.3" text-anchor="middle">25</text>
<text class="tk" x="371.0" y="461.3" text-anchor="middle">50</text>
<text class="tk" x="407.8" y="461.3" text-anchor="middle">75</text>
<text class="tk" x="444.5" y="461.3" text-anchor="middle">100</text>
<text class="tk" x="481.2" y="461.3" text-anchor="middle">125</text>
<path d="M283.7 438.3 H286.3 M283.7 405.3 H286.3 M283.7 372.4 H286.3 M283.7 339.4 H286.3 M283.7 306.5 H286.3 M283.7 273.5 H286.3 M297.5 447.0 V449.8 M334.2 447.0 V449.8 M371.0 447.0 V449.8 M407.8 447.0 V449.8 M444.5 447.0 V449.8 M481.2 447.0 V449.8" stroke="#909090" stroke-width="1.1" fill="none"/>
<text x="347.0" y="478.4" font-size="10" font-weight="bold" fill="#111" textLength="122.5" lengthAdjust="spacingAndGlyphs">Overall survival (months)</text>
<text transform="translate(259.0,358.3) rotate(-90)" font-size="9.4" font-weight="bold" fill="#111" text-anchor="middle" textLength="61.8" lengthAdjust="spacingAndGlyphs">Cum. survival</text>
<path d="M297.7 273.4 L303.0 273.4 L303.0 274.6 L306.0 274.6 L306.0 276.0 L308.0 276.0 L308.0 277.0 L310.5 277.0 L310.5 277.7 L312.0 277.7 L312.0 279.0 L314.0 279.0 L314.0 280.5 L316.0 280.5 L316.0 282.0 L318.0 282.0 L318.0 283.5 L320.0 283.5 L320.0 285.0 L322.0 285.0 L322.0 286.5 L324.0 286.5 L324.0 287.6 L326.0 287.6 L326.0 289.0 L327.6 289.0 L327.6 290.4 L329.0 290.4 L329.0 292.0 L331.0 292.0 L331.0 293.0 L333.5 293.0 L333.5 293.5 L336.9 293.5 L336.9 296.0 L340.0 296.0 L340.0 298.3 L343.1 298.3 L343.1 299.2 L354.6 299.2 L354.6 302.0 L357.7 302.0 L357.7 304.2 L372.3 304.2 L372.3 307.3 L385.4 307.3 L385.4 308.8 L391.5 308.8 L391.5 309.9 L405.4 309.9 L405.4 311.0 L407.7 311.0 L407.7 312.7 L409.5 312.7 L409.5 315.0 L411.5 315.0 L411.5 317.6 L441.5 317.6 L441.5 323.1 L481.5 323.1" stroke="#5e5e8a" stroke-width="0.85" fill="none"/>
<path d="M358.0 303.0 V305.4 M362.0 303.0 V305.4 M366.0 303.0 V305.4 M377.0 306.1 V308.5 M380.5 306.1 V308.5 M384.0 306.1 V308.5 M388.0 307.6 V310.0 M392.5 307.6 V310.0 M395.0 308.7 V311.1 M398.0 308.7 V311.1 M401.0 308.7 V311.1 M404.0 308.7 V311.1 M413.5 316.4 V318.8 M417.0 316.4 V318.8 M420.5 316.4 V318.8 M424.0 316.4 V318.8 M427.5 316.4 V318.8 M431.0 316.4 V318.8 M434.5 316.4 V318.8 M438.0 316.4 V318.8 M444.0 321.9 V324.3 M448.0 321.9 V324.3 M452.0 321.9 V324.3 M456.0 321.9 V324.3 M460.0 321.9 V324.3 M464.0 321.9 V324.3 M468.0 321.9 V324.3 M472.0 321.9 V324.3 M476.0 321.9 V324.3 M480.0 321.9 V324.3" stroke="#5e5e8a" stroke-width="1.3" fill="none"/>
<path d="M297.7 273.4 L303.0 273.4 L303.0 274.6 L306.0 274.6 L306.0 279.5 L313.8 279.5 L313.8 280.5 L316.0 280.5 L316.0 282.0 L318.0 282.0 L318.0 283.5 L320.0 283.5 L320.0 285.0 L321.0 285.0 L321.0 288.5 L322.5 288.5 L322.5 290.5 L325.0 290.5 L325.0 292.5 L328.0 292.5 L328.0 294.3 L331.0 294.3 L331.0 296.3 L334.0 296.3 L334.0 298.2 L337.0 298.2 L337.0 300.4 L340.0 300.4 L340.0 303.3 L343.0 303.3 L343.0 305.0 L348.5 305.0 L348.5 306.5 L351.0 306.5 L351.0 309.0 L354.6 309.0 L354.6 311.9 L356.2 311.9 L356.2 319.6 L358.0 319.6 L358.0 321.9 L376.9 321.9 L376.9 326.5 L410.8 326.5 L410.8 330.4 L423.3 330.4 L423.3 340.4 L449.2 340.4 L449.2 346.5 L460.8 346.5 L460.8 357.7 L470.4 357.7 L470.4 373.7 L484.2 373.7" stroke="#72a084" stroke-width="0.85" fill="none"/>
<path d="M362.0 320.7 V323.1 M366.0 320.7 V323.1 M370.0 320.7 V323.1 M374.0 320.7 V323.1 M380.0 325.3 V327.7 M384.0 325.3 V327.7 M388.0 325.3 V327.7 M392.0 325.3 V327.7 M396.0 325.3 V327.7 M400.0 325.3 V327.7 M404.0 325.3 V327.7 M408.0 325.3 V327.7 M414.0 329.2 V331.6 M418.0 329.2 V331.6 M421.0 329.2 V331.6 M427.0 339.2 V341.6 M431.0 339.2 V341.6 M436.0 339.2 V341.6 M440.0 339.2 V341.6 M445.0 339.2 V341.6 M452.0 345.3 V347.7 M455.0 345.3 V347.7 M458.0 345.3 V347.7 M463.0 356.5 V358.9 M467.0 356.5 V358.9 M474.0 372.5 V374.9 M478.0 372.5 V374.9 M482.0 372.5 V374.9" stroke="#72a084" stroke-width="1.3" fill="none"/>
<text class="ann" x="398.8" y="301.2" textLength="112.0" lengthAdjust="spacingAndGlyphs">Low expression of CRY2</text>
<text class="ann" x="336.7" y="359.8" textLength="114.6" lengthAdjust="spacingAndGlyphs">High expression of CRY2</text>
<text class="ann" x="341.7" y="424.0" textLength="162.7" lengthAdjust="spacingAndGlyphs">CRC patients without chemotherapy</text>
<text x="302.3" y="434.6" font-size="10.2" fill="#222" textLength="42.8" lengthAdjust="spacingAndGlyphs"><tspan font-style="italic">P</tspan> = 0.043</text>
</g><!--c2end-->
</svg>
</body></html>
